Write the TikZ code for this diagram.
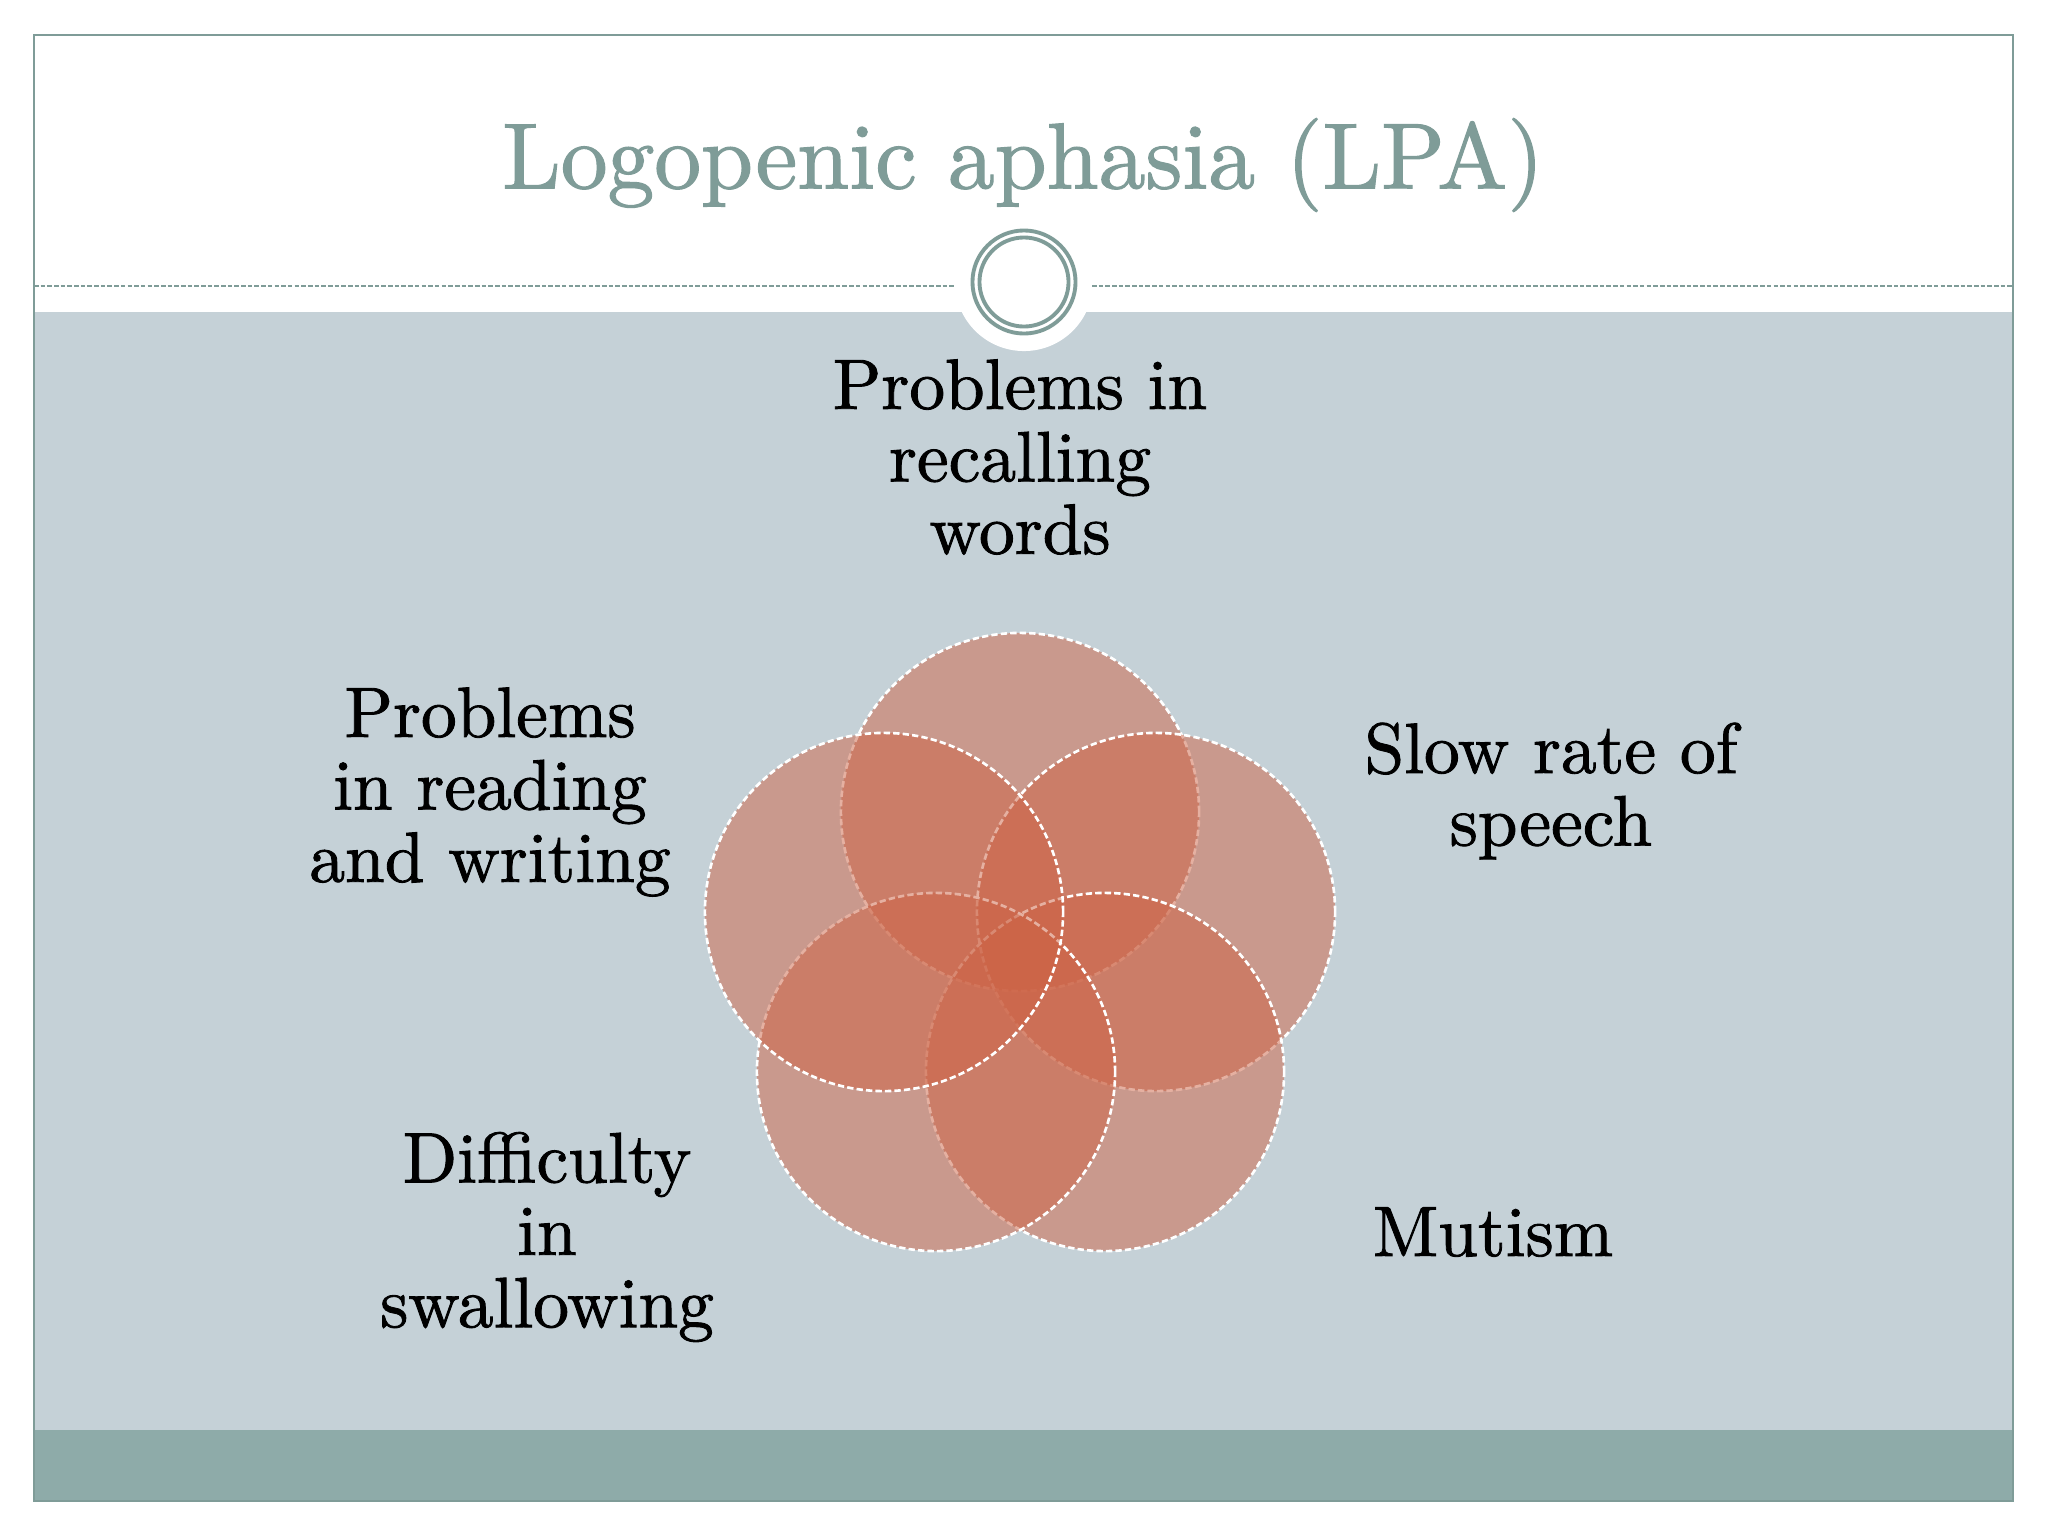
\documentclass[tikz,border=0pt]{standalone}
\usepackage{xcolor}
\usepackage{fontspec}
\setmainfont{lmroman10-regular}[Extension=.otf, FakeBold=1.2]
\usetikzlibrary{shapes.geometric}
\definecolor{titlegreen}{HTML}{7F9C98}
\definecolor{panelblue}{HTML}{C5D1D7}
\definecolor{bandgreen}{HTML}{8EABA9}
\definecolor{petalred}{HTML}{CD6345}

\begin{document}
\begin{tikzpicture}[x=0.01cm,y=-0.01cm]
	\tikzstyle{petal}=[draw=white, circle, inner sep=0pt, fill=petalred, fill opacity=0.5, line width=0.75pt, dash pattern=on 1.8pt off 0.9pt, minimum size=3.58cm]
	\tikzstyle{ring}=[draw=titlegreen, circle, inner sep=0pt, line width=1.1pt]
	\tikzstyle{label}=[align=center, inner sep=0pt, font=\fontsize{20.3}{20.6}\selectfont, text=black]
	\useasboundingbox (0,0) rectangle (2048,1536);
	\fill[white] (0,0) rectangle (2048,1536);
	% slide
	\fill[panelblue] (34,312) rectangle (2013,1430);
	\fill[bandgreen] (34,1430) rectangle (2013,1501);
	\draw[titlegreen, line width=0.45pt] (34,35) rectangle (2013,1501);
	\node[circle, fill=white, inner sep=0pt, minimum size=1.38cm] (bump) at (1024,282) {};
	\draw[titlegreen, line width=0.35pt, dash pattern=on 1.3pt off 0.6pt] (34,286) -- (956,286);
	\draw[titlegreen, line width=0.35pt, dash pattern=on 1.3pt off 0.6pt] (1092,286) -- (2013,286);
	\node[ring, minimum size=1.03cm] (outer) at (bump) {};
	\node[ring, minimum size=0.89cm] (inner) at (bump) {};
	\node[text=titlegreen, font=\fontsize{26.6}{30}\selectfont, inner sep=0pt] (title) at (1023,165) {Logopenic aphasia (LPA)};
	% petals, clockwise from the top
	\node[petal] (P1) at (1020,812) {};
	\node[petal] (P2) at (1156,912) {};
	\node[petal] (P3) at (1105,1072) {};
	\node[petal] (P4) at (936,1072) {};
	\node[petal] (P5) at (884,912) {};
	% labels
	\node[label] (top) at (1020,457) {Problems in\\recalling\\words};
	\node[label] (right) at (1551,791) {Slow rate of\\speech};
	\node[label] (mutism) at (1493,1232) {Mutism};
	\node[label] (swallow) at (547,1237) {Difficulty\\in\\swallowing};
	\node[label] (read) at (490,792) {Problems\\in reading\\and writing};
\end{tikzpicture}
\end{document}
